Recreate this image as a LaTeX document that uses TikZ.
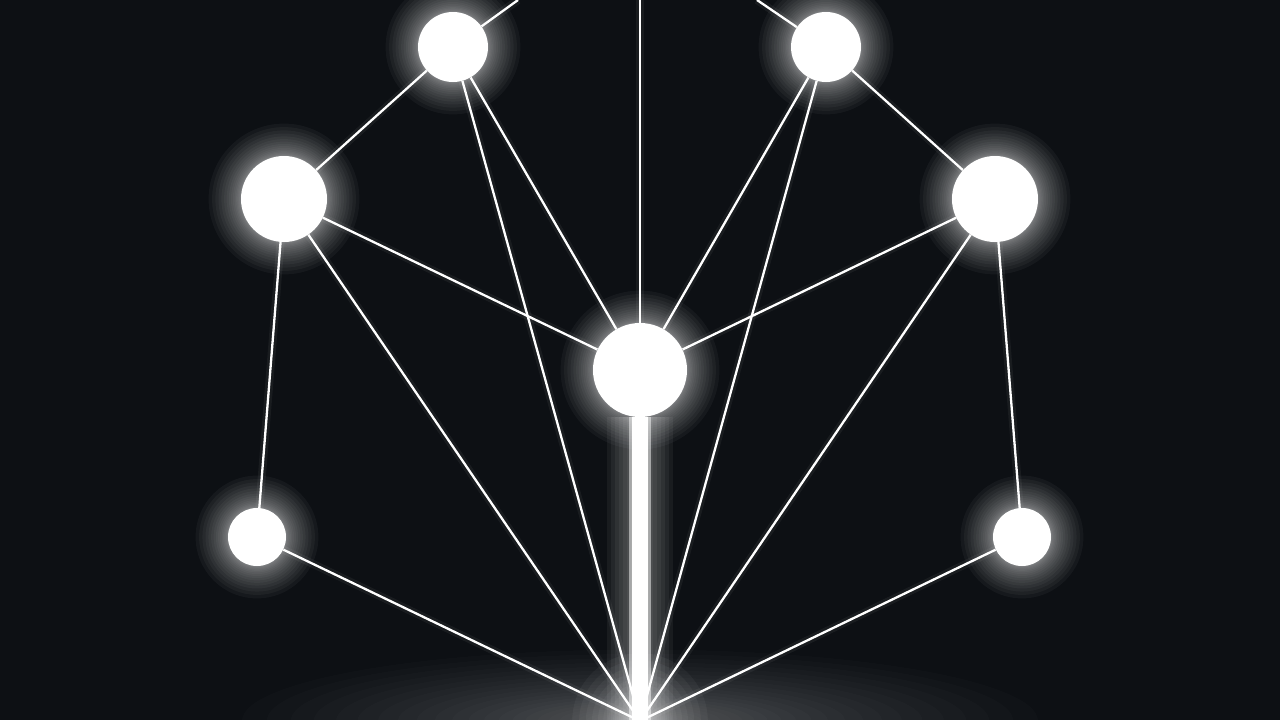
\documentclass[tikz,border=0pt]{standalone}
\definecolor{bgc}{HTML}{0D1014}
\pgfdeclarelayer{bgl}
\pgfdeclarelayer{glowl}
\pgfdeclarelayer{linel}
\pgfsetlayers{bgl,glowl,linel,main}
\begin{document}
\begin{tikzpicture}[x=1pt,y=-1pt,
  dot/.style={circle, fill=white, draw=none, inner sep=0pt, minimum size=#1},
  wire/.style={white, line width=2.3pt},
  wireglow/.style={white, opacity=0.05, line width=8pt},
  halo/.style={white, opacity=0.04},
]
\useasboundingbox (0,0) rectangle (1280,720);
% nodes
\node[dot=70pt] (n1) at (453,47) {};
\node[dot=70pt] (n2) at (826,47) {};
\node[dot=86pt] (n3) at (284,199) {};
\node[dot=86pt] (n4) at (995,199) {};
\node[dot=94pt] (c)  at (640,370) {};
\node[dot=58pt] (n5) at (257,537) {};
\node[dot=58pt] (n6) at (1022,537) {};
\coordinate (b)  at (640,721);
\coordinate (t0) at (640,0);
\coordinate (t1) at (518,0);
\coordinate (t2) at (757,0);

\begin{pgfonlayer}{bgl}
  \fill[bgc] (0,0) rectangle (1280,720);
\end{pgfonlayer}

\begin{pgfonlayer}{glowl}
  \clip (0,0) rectangle (1280,720);
  % halos around the nodes
  \foreach \p/\r in {n1/35,n2/35,n3/43,n4/43,c/47,n5/29,n6/29}{
    \foreach \k in {1,...,18}{
      \fill[halo] (\p) circle[radius={(\r+0.1*\k*\k)*1pt}];
    }
  }
  % haze at the bottom
  \foreach \k in {1,...,30}{
    \fill[white, opacity=0.016] (b) ellipse[x radius={(20+0.42*\k*\k)*1pt}, y radius={(4+0.075*\k*\k)*1pt}];
  }
  \foreach \k in {1,...,18}{
    \fill[white, opacity=0.04] (b) circle[radius={(3+0.2*\k*\k)*1pt}];
  }
\end{pgfonlayer}

\begin{pgfonlayer}{linel}
  \clip (0,0) rectangle (1280,720);
  % glow of the wires
  \foreach \a/\z in {n1/t1,n2/t2,c/t0,n1/n3,n2/n4,n1/c,n2/c,n3/c,n4/c,n3/n5,n4/n6,n1/b,n2/b,n3/b,n4/b,n5/b,n6/b}{
    \draw[wireglow] (\a) -- (\z);
  }
  % beam from the centre down
  \foreach \w in {66,58,...,18}{
    \draw[white, opacity=0.05, line width=\w pt] (c) -- (b);
  }
  \draw[white, opacity=0.5, line width=22pt] (c) -- (b);
  \draw[white, line width=16pt] (c) -- (b);
  % the wires
  \foreach \a/\z in {n1/t1,n2/t2,c/t0,n1/n3,n2/n4,n1/c,n2/c,n3/c,n4/c,n3/n5,n4/n6,n1/b,n2/b,n3/b,n4/b,n5/b,n6/b}{
    \draw[wire] (\a) -- (\z);
  }
\end{pgfonlayer}
\end{tikzpicture}
\end{document}
